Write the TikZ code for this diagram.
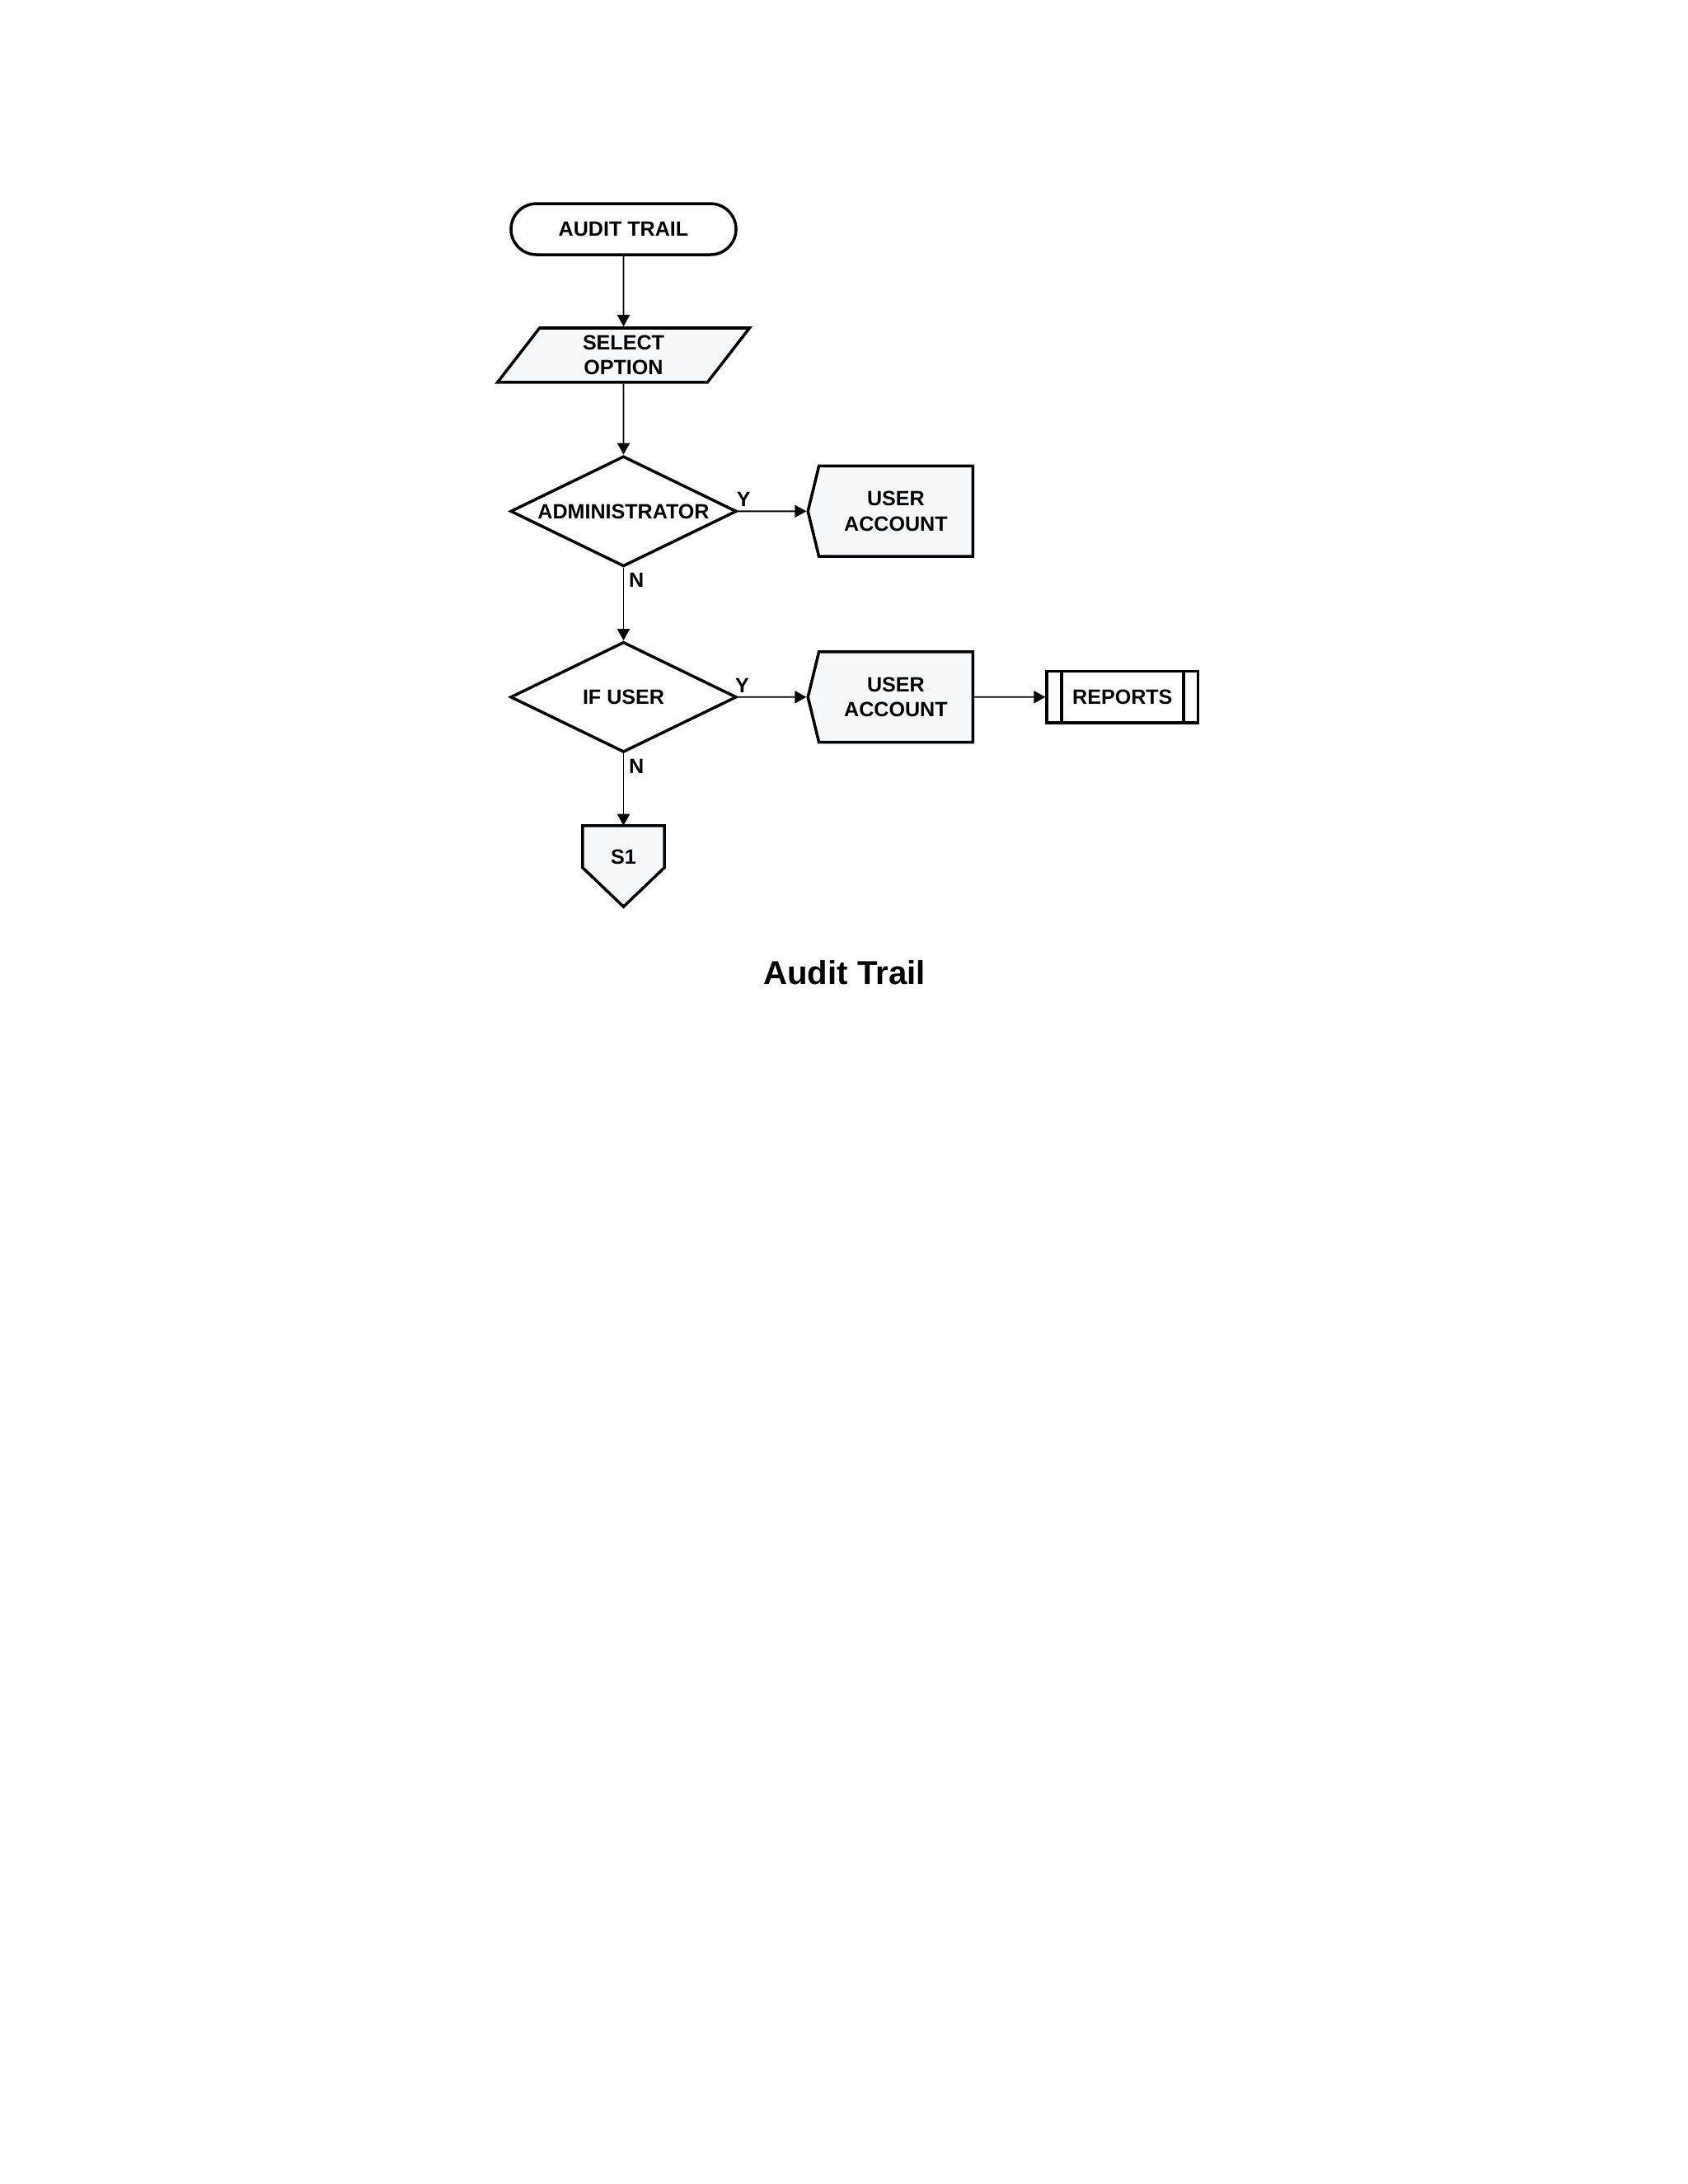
\documentclass[tikz,border=0pt]{standalone}
\usepackage{fontspec}
\setmainfont{Liberation Sans}
\usetikzlibrary{shapes.geometric, shapes.symbols, arrows.meta, positioning, backgrounds}
\definecolor{shapefill}{RGB}{245,249,252}

\begin{document}
\begin{tikzpicture}[
    font=\fontsize{7.5bp}{9bp}\selectfont\bfseries,
    terminal/.style={draw, line width=1.05bp, fill=white, rounded corners=9.25bp, minimum width=81.6bp, minimum height=18.5bp, inner sep=0pt},
    io/.style={draw, line width=1.05bp, fill=shapefill, trapezium, trapezium left angle=62.6, trapezium right angle=117.4, trapezium stretches=true, minimum width=91.5bp, minimum height=19.7bp, inner sep=0pt, align=center},
    decision/.style={draw, line width=1.05bp, fill=white, diamond, minimum width=82bp, minimum height=40bp, inner sep=0pt},
    display/.style={draw, line width=1.05bp, fill=shapefill, signal, signal to=west, signal from=nowhere, signal pointer angle=152.6, minimum width=59.8bp, minimum height=32.8bp, inner sep=0pt, align=center},
    predef/.style={draw, line width=1.05bp, fill=white, minimum width=54.8bp, minimum height=18.6bp, inner sep=0pt},
    offpage/.style={minimum width=29.3bp, minimum height=29bp, inner sep=0pt, text height=5.4bp, text depth=6.6bp},
    flow/.style={-{Triangle[length=4.2bp, width=4.5bp]}, line width=0.55bp},
    yn/.style={inner sep=1.5bp, font=\fontsize{7.5bp}{9bp}\selectfont\bfseries}
]
    \useasboundingbox (0, 0) rectangle (21.59, 27.94);

    % Main column
    \node[terminal] (start) at (7.976, 25.008) {AUDIT TRAIL};
    \node[io] (select) at (7.976, 23.396) {SELECT\\OPTION};
    \node[decision] (admin) at (7.976, 21.399) {\makebox[0pt]{ADMINISTRATOR}};
    \node[decision] (ifuser) at (7.976, 19.022) {\makebox[0pt]{IF USER}};
    \node[offpage] (s1) at (7.976, 16.859) {S1};
    \begin{scope}[on background layer]
        \draw[line width=1.05bp, fill=shapefill] (s1.north west) -- (s1.north east) -- ([yshift=14.2bp]s1.south east) -- (s1.south) -- ([yshift=14.2bp]s1.south west) -- cycle;
    \end{scope}

    % Right branches
    \node[display] (acc1) at (11.46, 21.399) {USER\\ACCOUNT};
    \node[display] (acc2) at (11.46, 19.022) {USER\\ACCOUNT};
    \node[predef] (reports) at (14.358, 19.022) {REPORTS};
    \draw[line width=1.05bp] ([xshift=5.8bp]reports.north west) -- ([xshift=5.8bp]reports.south west);
    \draw[line width=1.05bp] ([xshift=-5.8bp]reports.north east) -- ([xshift=-5.8bp]reports.south east);

    % Connectors
    \draw[flow] (start) -- (select);
    \draw[flow] (select) -- (admin);
    \draw[flow] (admin) -- (ifuser);
    \draw[flow] (ifuser) -- (s1);
    \draw[flow] (admin) -- (acc1);
    \draw[flow] (ifuser) -- (acc2);
    \draw[flow] (acc2) -- (reports);

    % Y / N labels
    \node[yn, anchor=south, xshift=2bp] (y1) at (admin.east) {Y};
    \node[yn, anchor=north west, inner sep=1.8bp] (n1) at (admin.south) {N};
    \node[yn, anchor=south, xshift=1.5bp] (y2) at (ifuser.east) {Y};
    \node[yn, anchor=north west, inner sep=1.8bp] (n2) at (ifuser.south) {N};

    % Caption
    \node[font=\fontsize{12bp}{14bp}\selectfont\bfseries] (caption) at (10.802, 15.494) {Audit Trail};
\end{tikzpicture}
\end{document}
